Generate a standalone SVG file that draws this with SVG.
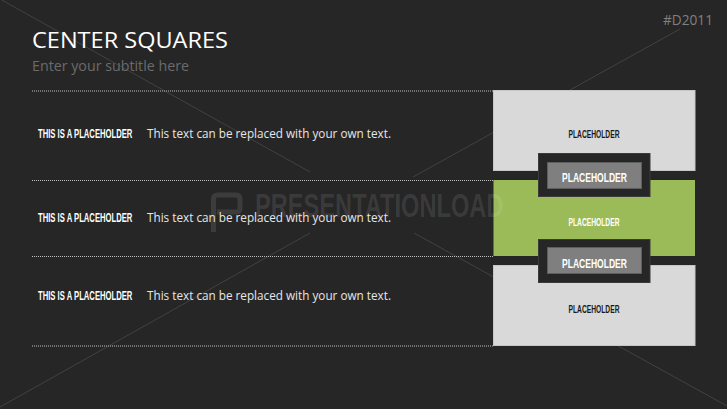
<svg xmlns="http://www.w3.org/2000/svg" width="727" height="409" viewBox="0 0 727 409">
<style>
.bg{fill:#262626}
.wm{fill:#ffffff;fill-opacity:0.1}
.wml{stroke:#ffffff;stroke-opacity:0.13;stroke-width:1;fill:none}
.sep{stroke:#bfbfbf;stroke-width:1;stroke-dasharray:1 1;fill:none}
.title{font-family:"Open Sans","Liberation Sans",sans-serif;font-size:22px;fill:#ffffff}
.sub{font-family:"Open Sans","Liberation Sans",sans-serif;font-size:14px;fill:#6b6b6b}
.code{font-family:"Open Sans","Liberation Sans",sans-serif;font-size:14px;fill:#808080}
.lab{font-family:"Liberation Sans",Arial,sans-serif;font-weight:bold;font-size:13.5px;fill:#ffffff}
.body{font-family:"Open Sans","Liberation Sans",sans-serif;font-size:13px;fill:#e6e6e6}
.blk{font-family:"Liberation Sans",Arial,sans-serif;font-weight:bold;font-size:11.5px;text-anchor:middle}
.tag{font-family:"Liberation Sans",Arial,sans-serif;font-weight:bold;font-size:13.5px;text-anchor:middle;fill:#ffffff}
.grey{fill:#d9d9d9;stroke:#c6c6c6;stroke-width:1}
.green{fill:#9bbb59}
.notch{fill:#262626;stroke:#3a3a3a;stroke-width:1}
.tagbox{fill:#7f7f7f;stroke:#5e5e5e;stroke-width:1}
</style>
<rect class="bg" x="0" y="0" width="727" height="409"/>

<g id="watermark">
  <line class="wml" x1="0" y1="-1" x2="310" y2="172"/>
  <line class="wml" x1="414" y1="233" x2="727" y2="406"/>
  <line class="wml" x1="0" y1="407" x2="310" y2="233"/>
  <line class="wml" x1="413" y1="177" x2="680" y2="29"/>
  <path d="M213.5 232 L213.5 199 Q213.5 195 217.5 195 L236 195 Q240 195 240 199 L240 208 Q240 212 236 212 L217 212" fill="none" stroke="#ffffff" stroke-opacity="0.1" stroke-width="5"/>
</g>

<g id="header">
  <text class="title" x="32" y="48" textLength="196" lengthAdjust="spacingAndGlyphs">CENTER SQUARES</text>
  <text class="sub" x="32" y="71" textLength="157" lengthAdjust="spacingAndGlyphs">Enter your subtitle here</text>
  <text class="code" x="663" y="25" textLength="50" lengthAdjust="spacingAndGlyphs">#D2011</text>
</g>

<g id="separators">
  <line class="sep" x1="32" y1="91" x2="494" y2="91"/>
  <line class="sep" x1="32" y1="180.5" x2="494" y2="180.5"/>
  <line class="sep" x1="32" y1="256.5" x2="494" y2="256.5"/>
  <line class="sep" x1="32" y1="346" x2="494" y2="346"/>
</g>

<g id="row1">
  <text class="lab" transform="translate(38,138) scale(0.568,1)">THIS IS A PLACEHOLDER</text>
  <text class="body" x="147" y="138" textLength="244" lengthAdjust="spacingAndGlyphs">This text can be replaced with your own text.</text>
</g>
<g id="row2">
  <text class="lab" transform="translate(38,222) scale(0.568,1)">THIS IS A PLACEHOLDER</text>
  <text class="body" x="147" y="222" textLength="244" lengthAdjust="spacingAndGlyphs">This text can be replaced with your own text.</text>
</g>
<g id="row3">
  <text class="lab" transform="translate(38,300) scale(0.568,1)">THIS IS A PLACEHOLDER</text>
  <text class="body" x="147" y="300" textLength="244" lengthAdjust="spacingAndGlyphs">This text can be replaced with your own text.</text>
</g>

<g id="square-top">
  <rect class="grey" x="493.5" y="90.5" width="201.5" height="80"/>
  <text class="blk" transform="translate(594,137.5) scale(0.583,1)" fill="#1a1a1a">PLACEHOLDER</text>
</g>
<g id="square-middle">
  <rect class="green" x="493.5" y="180" width="201.5" height="76"/>
  <text class="blk" transform="translate(594,226) scale(0.583,1)" fill="#ffffff">PLACEHOLDER</text>
</g>
<g id="square-bottom">
  <rect class="grey" x="493.5" y="265.5" width="201.5" height="80"/>
  <text class="blk" transform="translate(594,312.5) scale(0.583,1)" fill="#1a1a1a">PLACEHOLDER</text>
</g>

<g id="connector-upper">
  <rect class="notch" x="538.5" y="153.5" width="111.5" height="43"/>
  <rect class="tagbox" x="547.5" y="162.5" width="94" height="26"/>
  <text class="tag" transform="translate(594.5,182) scale(0.633,1)">PLACEHOLDER</text>
</g>
<g id="connector-lower">
  <rect class="notch" x="538.5" y="239.5" width="111.5" height="43"/>
  <rect class="tagbox" x="547.5" y="247.5" width="94" height="26"/>
  <text class="tag" transform="translate(594.5,267.5) scale(0.633,1)">PLACEHOLDER</text>
</g>

<g id="watermark-text">
  <text class="wm" transform="translate(255,217) scale(0.716,1)" font-family="'Liberation Sans',Arial,sans-serif" font-weight="bold" font-size="33">PRESENTATIONLOAD</text>
</g>
</svg>
